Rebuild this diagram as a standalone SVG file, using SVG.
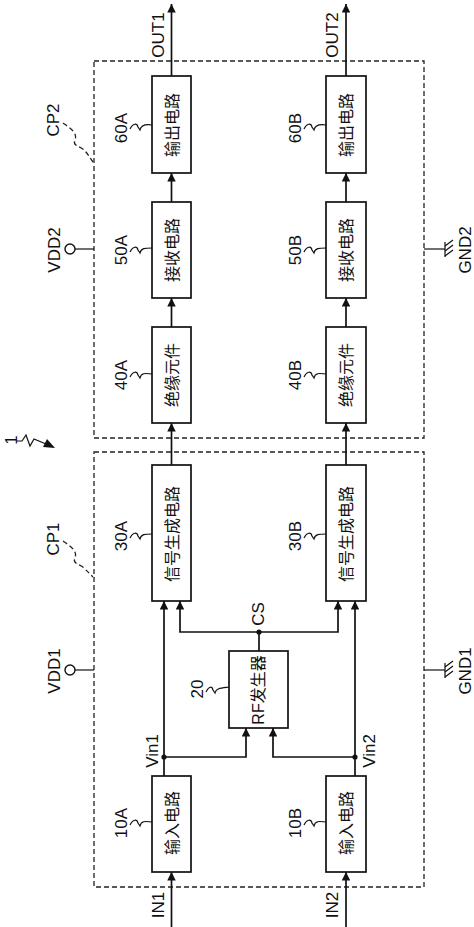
<svg xmlns="http://www.w3.org/2000/svg" width="474" height="927" viewBox="0 0 474 927">
<style>
text{font-family:"Liberation Sans","Noto Sans CJK SC",sans-serif;fill:#111;text-anchor:middle;dominant-baseline:central}
.lbl{font-size:17px}
.cjk{font-size:16px}
.box{fill:#fff;stroke:#111;stroke-width:1.7}
.dash{fill:none;stroke:#222;stroke-width:1.3;stroke-dasharray:5,3}
.w{fill:none;stroke:#111;stroke-width:1.7}
.thin{fill:none;stroke:#111;stroke-width:1.2}
</style>
<defs>
<marker id="ah" viewBox="0 0 10 10" refX="10" refY="5" markerWidth="5" markerHeight="5" orient="auto" markerUnits="strokeWidth"><path d="M0,0 L10,5 L0,10 z" fill="#111"/></marker>
</defs>

<g id="CP2"><rect class="dash" x="94" y="61" width="330" height="377"/><text class="lbl" transform="translate(53,120) rotate(-90)">CP2</text><path class="dash" d="M63,123 C70,128 78,133 75,140 C72,146 80,146 84,150 C88,154 90,158 93,162"/></g>
<g id="CP1"><rect class="dash" x="94" y="452" width="330" height="435"/><text class="lbl" transform="translate(53,539) rotate(-90)">CP1</text><path class="dash" d="M63,541 C70,546 78,551 75,558 C72,564 80,564 84,568 C88,572 90,574 93,577"/></g>

<g id="label1"><text class="lbl" transform="translate(11,440) rotate(-90)">1</text><path class="thin" d="M17,441 L22,441 L26,435 L30,446 L34,439 L46,444"/><polygon points="55,448 43,447 47,439" fill="#111"/></g>

<g id="VDD2"><circle cx="70" cy="249" r="5" fill="#fff" stroke="#111" stroke-width="1.4"/><line class="thin" x1="75" y1="249" x2="94" y2="249"/><text class="lbl" transform="translate(54,250) rotate(-90)">VDD2</text></g>
<g id="VDD1"><circle cx="70" cy="670" r="5" fill="#fff" stroke="#111" stroke-width="1.4"/><line class="thin" x1="75" y1="670" x2="94" y2="670"/><text class="lbl" transform="translate(54,671) rotate(-90)">VDD1</text></g>
<g id="GND2"><line class="thin" x1="424" y1="249" x2="445" y2="249"/><line class="thin" x1="445" y1="242" x2="445" y2="257"/><path class="thin" d="M445,246 L453,240 M445,251 L453,245 M445,256 L453,250"/><text class="lbl" transform="translate(465,250) rotate(-90)">GND2</text></g>
<g id="GND1"><line class="thin" x1="424" y1="670" x2="445" y2="670"/><line class="thin" x1="445" y1="663" x2="445" y2="678"/><path class="thin" d="M445,667 L453,661 M445,672 L453,666 M445,677 L453,671"/><text class="lbl" transform="translate(465,671) rotate(-90)">GND1</text></g>

<g id="n60A"><rect class="box" x="152" y="76" width="39" height="97"/><text class="cjk" transform="translate(172,125) rotate(-90)">输出电路</text><text class="lbl" transform="translate(121,128) rotate(-90)">60A</text><path class="thin" d="M130,129 C133,123 137,123 138,127 L140,130 C141,125 145,124 152,125"/></g>
<g id="n60B"><rect class="box" x="326" y="76" width="40" height="97"/><text class="cjk" transform="translate(346,125) rotate(-90)">输出电路</text><text class="lbl" transform="translate(295,128) rotate(-90)">60B</text><path class="thin" d="M304,129 C307,123 311,123 312,127 L314,130 C315,125 319,124 326,125"/></g>
<g id="n50A"><rect class="box" x="152" y="202" width="39" height="96"/><text class="cjk" transform="translate(172,250) rotate(-90)">接收电路</text><text class="lbl" transform="translate(121,250) rotate(-90)">50A</text><path class="thin" d="M130,252 C133,246 137,246 138,250 L140,253 C141,248 145,248 152,248"/></g>
<g id="n50B"><rect class="box" x="326" y="202" width="40" height="96"/><text class="cjk" transform="translate(346,250) rotate(-90)">接收电路</text><text class="lbl" transform="translate(295,250) rotate(-90)">50B</text><path class="thin" d="M304,252 C307,246 311,246 312,250 L314,253 C315,248 319,248 326,248"/></g>
<g id="n40A"><rect class="box" x="152" y="327" width="39" height="96"/><text class="cjk" transform="translate(172,375) rotate(-90)">绝缘元件</text><text class="lbl" transform="translate(121,375) rotate(-90)">40A</text><path class="thin" d="M130,377 C133,371 137,371 138,375 L140,378 C141,373 145,373 152,374"/></g>
<g id="n40B"><rect class="box" x="326" y="327" width="40" height="96"/><text class="cjk" transform="translate(346,375) rotate(-90)">绝缘元件</text><text class="lbl" transform="translate(295,375) rotate(-90)">40B</text><path class="thin" d="M304,377 C307,371 311,371 312,375 L314,378 C315,373 319,373 326,374"/></g>
<g id="n30A"><rect class="box" x="152" y="465" width="39" height="136"/><text class="cjk" transform="translate(172,534) rotate(-90)">信号生成电路</text><text class="lbl" transform="translate(121,536) rotate(-90)">30A</text><path class="thin" d="M130,538 C133,532 137,532 138,536 L140,539 C141,534 145,534 152,534"/></g>
<g id="n30B"><rect class="box" x="326" y="465" width="40" height="136"/><text class="cjk" transform="translate(346,534) rotate(-90)">信号生成电路</text><text class="lbl" transform="translate(295,536) rotate(-90)">30B</text><path class="thin" d="M304,538 C307,532 311,532 312,536 L314,539 C315,534 319,534 326,534"/></g>
<g id="n20"><rect class="box" x="229" y="651" width="59" height="77"/><text class="cjk" transform="translate(258,690) rotate(-90)">RF发生器</text><text class="lbl" transform="translate(197,689) rotate(-90)">20</text><path class="thin" d="M206,692 C209,686 212,686 213,690 L215,693 C216,688 221,688 229,687"/></g>
<g id="n10A"><rect class="box" x="152" y="776" width="39" height="96"/><text class="cjk" transform="translate(172,823) rotate(-90)">输入电路</text><text class="lbl" transform="translate(121,823) rotate(-90)">10A</text><path class="thin" d="M130,825 C133,819 137,819 138,823 L140,826 C141,821 145,821 152,822"/></g>
<g id="n10B"><rect class="box" x="326" y="776" width="40" height="96"/><text class="cjk" transform="translate(346,823) rotate(-90)">输入电路</text><text class="lbl" transform="translate(295,823) rotate(-90)">10B</text><path class="thin" d="M304,825 C307,819 311,819 312,823 L314,826 C315,821 319,821 326,822"/></g>

<g id="connectors">
<line class="w" x1="171.5" y1="76" x2="171.5" y2="4" marker-end="url(#ah)"/>
<line class="w" x1="346" y1="76" x2="346" y2="4" marker-end="url(#ah)"/>
<line class="w" x1="171.5" y1="202" x2="171.5" y2="173" marker-end="url(#ah)"/>
<line class="w" x1="346" y1="202" x2="346" y2="173" marker-end="url(#ah)"/>
<line class="w" x1="171.5" y1="327" x2="171.5" y2="298" marker-end="url(#ah)"/>
<line class="w" x1="346" y1="327" x2="346" y2="298" marker-end="url(#ah)"/>
<line class="w" x1="171.5" y1="465" x2="171.5" y2="423" marker-end="url(#ah)"/>
<line class="w" x1="346" y1="465" x2="346" y2="423" marker-end="url(#ah)"/>
<line class="w" x1="171.5" y1="927" x2="171.5" y2="872" marker-end="url(#ah)"/>
<line class="w" x1="346" y1="927" x2="346" y2="872" marker-end="url(#ah)"/>
<line class="w" x1="164" y1="776" x2="164" y2="601" marker-end="url(#ah)"/>
<line class="w" x1="355" y1="776" x2="355" y2="601" marker-end="url(#ah)"/>
<path class="w" d="M164,757 L246,757 L246,728" marker-end="url(#ah)"/>
<path class="w" d="M355,757 L273,757 L273,728" marker-end="url(#ah)"/>
<line class="w" x1="259" y1="651" x2="259" y2="632"/>
<path class="w" d="M259,632 L180,632 L180,601" marker-end="url(#ah)"/>
<path class="w" d="M259,632 L338,632 L338,601" marker-end="url(#ah)"/>
<circle cx="259" cy="632" r="2.6" fill="#111"/>
<circle cx="164" cy="757" r="2.6" fill="#111"/>
<circle cx="355" cy="757" r="2.6" fill="#111"/>
<text class="lbl" transform="translate(258,614) rotate(-90)">CS</text>
<text class="lbl" transform="translate(152,751) rotate(-90)">Vin1</text>
<text class="lbl" transform="translate(369,751) rotate(-90)">Vin2</text>
<text class="lbl" transform="translate(158,35) rotate(-90)">OUT1</text>
<text class="lbl" transform="translate(332,35) rotate(-90)">OUT2</text>
<text class="lbl" transform="translate(158,905) rotate(-90)">IN1</text>
<text class="lbl" transform="translate(332,905) rotate(-90)">IN2</text>
</g>
</svg>
